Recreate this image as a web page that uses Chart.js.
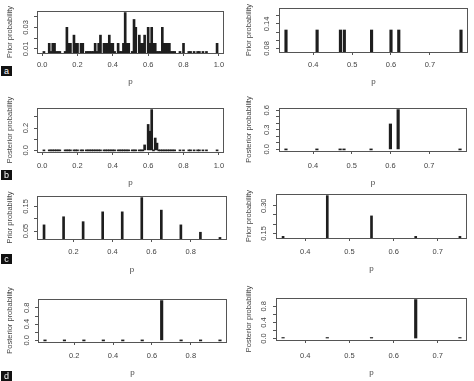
<!DOCTYPE html>
<html>
<head>
<meta charset="utf-8">
<script src="https://cdn.jsdelivr.net/npm/chart.js@4"></script>
<style>
  body { margin: 0; background: #fff; }
  #fig { position: relative; width: 474px; height: 381px; overflow: hidden; background: #fff; }
  #fig canvas { position: absolute; }
  .tag { position: absolute; left: 1px; width: 11px; height: 10px; background: #111; color: #fff;
         font: 9px "Liberation Sans", Arial, sans-serif; line-height: 10px; text-align: center; }
</style>
</head>
<body>
<div id="fig">
  <canvas id="aL" width="237" height="95" style="left:0;top:0"></canvas>
  <canvas id="aR" width="237" height="95" style="left:237px;top:0"></canvas>
  <canvas id="bL" width="237" height="95" style="left:0;top:95px"></canvas>
  <canvas id="bR" width="237" height="95" style="left:237px;top:95px"></canvas>
  <canvas id="cL" width="237" height="95" style="left:0;top:190px"></canvas>
  <canvas id="cR" width="237" height="95" style="left:237px;top:190px"></canvas>
  <canvas id="dL" width="237" height="96" style="left:0;top:285px"></canvas>
  <canvas id="dR" width="237" height="96" style="left:237px;top:285px"></canvas>
  <div class="tag" style="top:66px">a</div>
  <div class="tag" style="top:170px">b</div>
  <div class="tag" style="top:254px">c</div>
  <div class="tag" style="top:371px">d</div>
</div>
<script>
// p grid with many values (panels a, b left)
const pA = [0.01,0.04,0.05,0.06,0.07,0.08,0.09,0.10,0.13,0.14,
            0.15,0.16,0.18,0.19,0.20,0.22,0.23,0.25,0.26,0.27,
            0.28,0.29,0.30,0.31,0.32,0.33,0.35,0.36,0.37,0.38,
            0.39,0.40,0.41,0.43,0.44,0.45,0.46,0.47,0.48,0.49,
            0.51,0.52,0.53,0.55,0.56,0.57,0.58,0.60,0.61,0.62,
            0.63,0.64,0.65,0.66,0.67,0.68,0.69,0.70,0.71,0.72,
            0.73,0.74,0.75,0.78,0.80,0.83,0.84,0.86,0.88,0.89,0.91,0.93,0.99];
const priorA = [0.0077,0.0152,0.0077,0.0152,0.0152,0.0077,0.0077,0.0077,0.0077,0.0300,
                0.0152,0.0152,0.0228,0.0152,0.0152,0.0152,0.0152,0.0077,0.0077,0.0077,
                0.0077,0.0077,0.0152,0.0077,0.0152,0.0228,0.0152,0.0152,0.0152,0.0228,
                0.0152,0.0152,0.0077,0.0152,0.0077,0.0077,0.0152,0.0437,0.0152,0.0152,
                0.0077,0.0373,0.0300,0.0228,0.0152,0.0152,0.0228,0.0300,0.0152,0.0300,
                0.0152,0.0152,0.0077,0.0077,0.0077,0.0300,0.0152,0.0152,0.0152,0.0152,
                0.0077,0.0077,0.0077,0.0077,0.0152,0.0077,0.0077,0.0077,0.0077,0.0077,0.0077,0.0077,0.0152];
const postA = [0,0,0,0,0,0,0,0,0,0,
               0,0,0,0,0,0,0,0,0,0,
               0,0,0,0,0,0,0,0,0,0,
               0,0,0,0,0,0,0,0,0,0,
               0,0,0,0,0,0,0.049,0.233,0.172,0.366,
               0,0.111,0.065,0,0,0,0,0,0,0,
               0,0,0,0,0,0,0,0,0,0,0,0,0];

// few distinct p values (panels a, b right)
const pB = [0.33,0.41,0.47,0.48,0.55,0.60,0.62,0.78];
const priorB = [0.125,0.125,0.125,0.125,0.125,0.125,0.125,0.125];
const postB = [0,0,0,0,0,0.39,0.61,0];

// binned p (panels c, d left)
const pC = [0.05,0.15,0.25,0.35,0.45,0.55,0.65,0.75,0.85,0.95];
const priorC = [0.075,0.108,0.088,0.128,0.128,0.186,0.135,0.075,0.045,0.024];
const postC = [0,0,0,0,0,0,0.98,0,0,0];

// coarse bins (panels c, d right)
const pD = [0.35,0.45,0.55,0.65,0.75];
const priorD = [0.134,0.355,0.245,0.134,0.134];
const postD = [0.002,0.002,0.025,0.97,0.002];

// tick values and labels
const xTicksFull = [0,0.2,0.4,0.6,0.8,1.0];
const xLabsFull = ['0.0','0.2','0.4','0.6','0.8','1.0'];
const xTicksMid = [0.4,0.5,0.6,0.7];
const xLabsMid = ['0.4','0.5','0.6','0.7'];
const xTicksBin = [0.2,0.4,0.6,0.8];
const xLabsBin = ['0.2','0.4','0.6','0.8'];

const yTicksAL = [0.01,0.02,0.03,0.04];       const yLabsAL = ['0.01','','0.03',''];
const yTicksAR = [0.08,0.10,0.12,0.14,0.16];  const yLabsAR = ['0.08','','','0.14',''];
const yTicksBL = [0,0.1,0.2,0.3];             const yLabsBL = ['0.0','','0.2',''];
const yTicksBR = [0,0.1,0.2,0.3,0.4,0.5,0.6]; const yLabsBR = ['0.0','','','0.3','','','0.6'];
const yTicksCL = [0.05,0.10,0.15];            const yLabsCL = ['0.05','','0.15'];
const yTicksCR = [0.15,0.20,0.25,0.30];       const yLabsCR = ['0.15','','','0.30'];
const yTicksD = [0,0.2,0.4,0.6,0.8];          const yLabsD = ['0.0','','0.4','','0.8'];

Chart.defaults.font.family = '"Liberation Sans", Arial, sans-serif';
Chart.defaults.font.size = 7.5;
Chart.defaults.color = '#444';

const FONT = '7.5px "Liberation Sans", Arial, sans-serif';
const mctx = document.createElement('canvas').getContext('2d');
mctx.font = FONT;

/* rango como R: 4% a cada lado */
const rRange = (v) => {
    let lo = Math.min(...v), hi = Math.max(...v);
    if (lo === hi) { lo -= 0.4 * Math.abs(lo); hi += 0.4 * Math.abs(hi); }
    const d = (hi - lo) * 0.04;
    return [lo - d, hi + d];
};

/* caja alrededor del area del grafico */
const boxPlugin = {
    id: 'rbox',
    afterDraw(chart) {
        const a = chart.chartArea, c = chart.ctx;
        c.save();
        c.strokeStyle = '#555';
        c.lineWidth = 1;
        c.strokeRect(Math.round(a.left) + 0.5, Math.round(a.top) + 0.5,
                     Math.round(a.right - a.left) - 1, Math.round(a.bottom - a.top));
        c.restore();
    }
};

let makePanel = (id, o) => {
    const cv = document.getElementById(id);
    const W = cv.width, H = cv.height;
    const [L, T, R, B] = o.box;
    const xr = rRange(o.p), yr = rRange(o.v);
    const tl = 3, lh = 9, lhP = 9.6;
    const widest = Math.max(...o.yl.map(s => mctx.measureText(s).width));
    const yDist = o.right ? 12 : 11;
    const titleX = o.right ? 11.7 : 10;

    new Chart(cv, {
        type: 'bar',
        data: {
            datasets: [{
                data: o.p.map((x, i) => ({ x: x, y: o.v[i] })),
                backgroundColor: '#1e1e1e',
                barThickness: o.bw,
                minBarLength: 1,
                clip: 0
            }]
        },
        options: {
            responsive: false,
            animation: false,
            devicePixelRatio: 1,
            layout: { padding: { left: 0, top: T, right: W - R, bottom: 0 } },
            plugins: { legend: { display: false }, tooltip: { enabled: false } },
            scales: {
                x: {
                    type: 'linear', min: xr[0], max: xr[1], offset: false,
                    grid: { display: true, offset: false, drawOnChartArea: false, tickLength: tl, color: '#555' },
                    border: { display: false },
                    ticks: { padding: o.tickY - B - tl - lh / 2, maxRotation: 0, autoSkip: false,
                             callback: (v, i) => o.xl[i] },
                    afterBuildTicks: s => { s.ticks = o.xt.map(v => ({ value: v })); },
                    afterFit: s => { s.height = H - B; s.paddingLeft = 0; s.paddingRight = 0; },
                    title: { display: true, text: 'p', font: { size: 8 }, padding: { top: 0, bottom: H - o.pY - lhP / 2 } }
                },
                y: {
                    type: 'linear', min: yr[0], max: yr[1],
                    grid: { display: true, drawOnChartArea: false, tickLength: tl, color: '#555' },
                    border: { display: false },
                    ticks: { minRotation: 90, maxRotation: 90, crossAlign: 'center', autoSkip: false,
                             padding: yDist - tl - widest / 2, callback: (v, i) => o.yl[i] },
                    afterBuildTicks: s => { s.ticks = o.yt.map(v => ({ value: v })); },
                    afterFit: s => { s.width = L; s.paddingTop = 0; s.paddingBottom = 0; },
                    title: { display: true, text: o.title, padding: { top: titleX - lh / 2, bottom: 0 } }
                }
            }
        },
        plugins: [boxPlugin]
    });
};

makePanel('aL', { p: pA, v: priorA, xt: xTicksFull, xl: xLabsFull, yt: yTicksAL, yl: yLabsAL,
    title: 'Prior probability', box: [37, 11, 224, 53], tickY: 65, pY: 82, right: false, bw: 2 });
makePanel('aR', { p: pB, v: priorB, xt: xTicksMid, xl: xLabsMid, yt: yTicksAR, yl: yLabsAR,
    title: 'Prior probability', box: [42, 8, 231, 52], tickY: 65, pY: 82, right: true, bw: 2.5 });
makePanel('bL', { p: pA, v: postA, xt: xTicksFull, xl: xLabsFull, yt: yTicksBL, yl: yLabsBL,
    title: 'Posterior probability', box: [37, 13, 224, 57], tickY: 70.5, pY: 88, right: false, bw: 2 });
makePanel('bR', { p: pB, v: postB, xt: xTicksMid, xl: xLabsMid, yt: yTicksBR, yl: yLabsBR,
    title: 'Posterior probability', box: [42, 13, 230, 56], tickY: 70.5, pY: 87.5, right: true, bw: 2.5 });
makePanel('cL', { p: pC, v: priorC, xt: xTicksBin, xl: xLabsBin, yt: yTicksCL, yl: yLabsCL,
    title: 'Prior probability', box: [37, 6, 227, 49], tickY: 62, pY: 80, right: false, bw: 2 });
makePanel('cR', { p: pD, v: priorD, xt: xTicksMid, xl: xLabsMid, yt: yTicksCR, yl: yLabsCR,
    title: 'Prior probability', box: [39, 4, 230, 48], tickY: 61.5, pY: 79, right: true, bw: 2 });
makePanel('dL', { p: pC, v: postC, xt: xTicksBin, xl: xLabsBin, yt: yTicksD, yl: yLabsD,
    title: 'Posterior probability', box: [38, 14, 227, 57], tickY: 71, pY: 88, right: false, bw: 2.5 });
makePanel('dR', { p: pD, v: postD, xt: xTicksMid, xl: xLabsMid, yt: yTicksD, yl: yLabsD,
    title: 'Posterior probability', box: [39, 13, 230, 55], tickY: 70.5, pY: 87.5, right: true, bw: 2.5 });
</script>
</body>
</html>
